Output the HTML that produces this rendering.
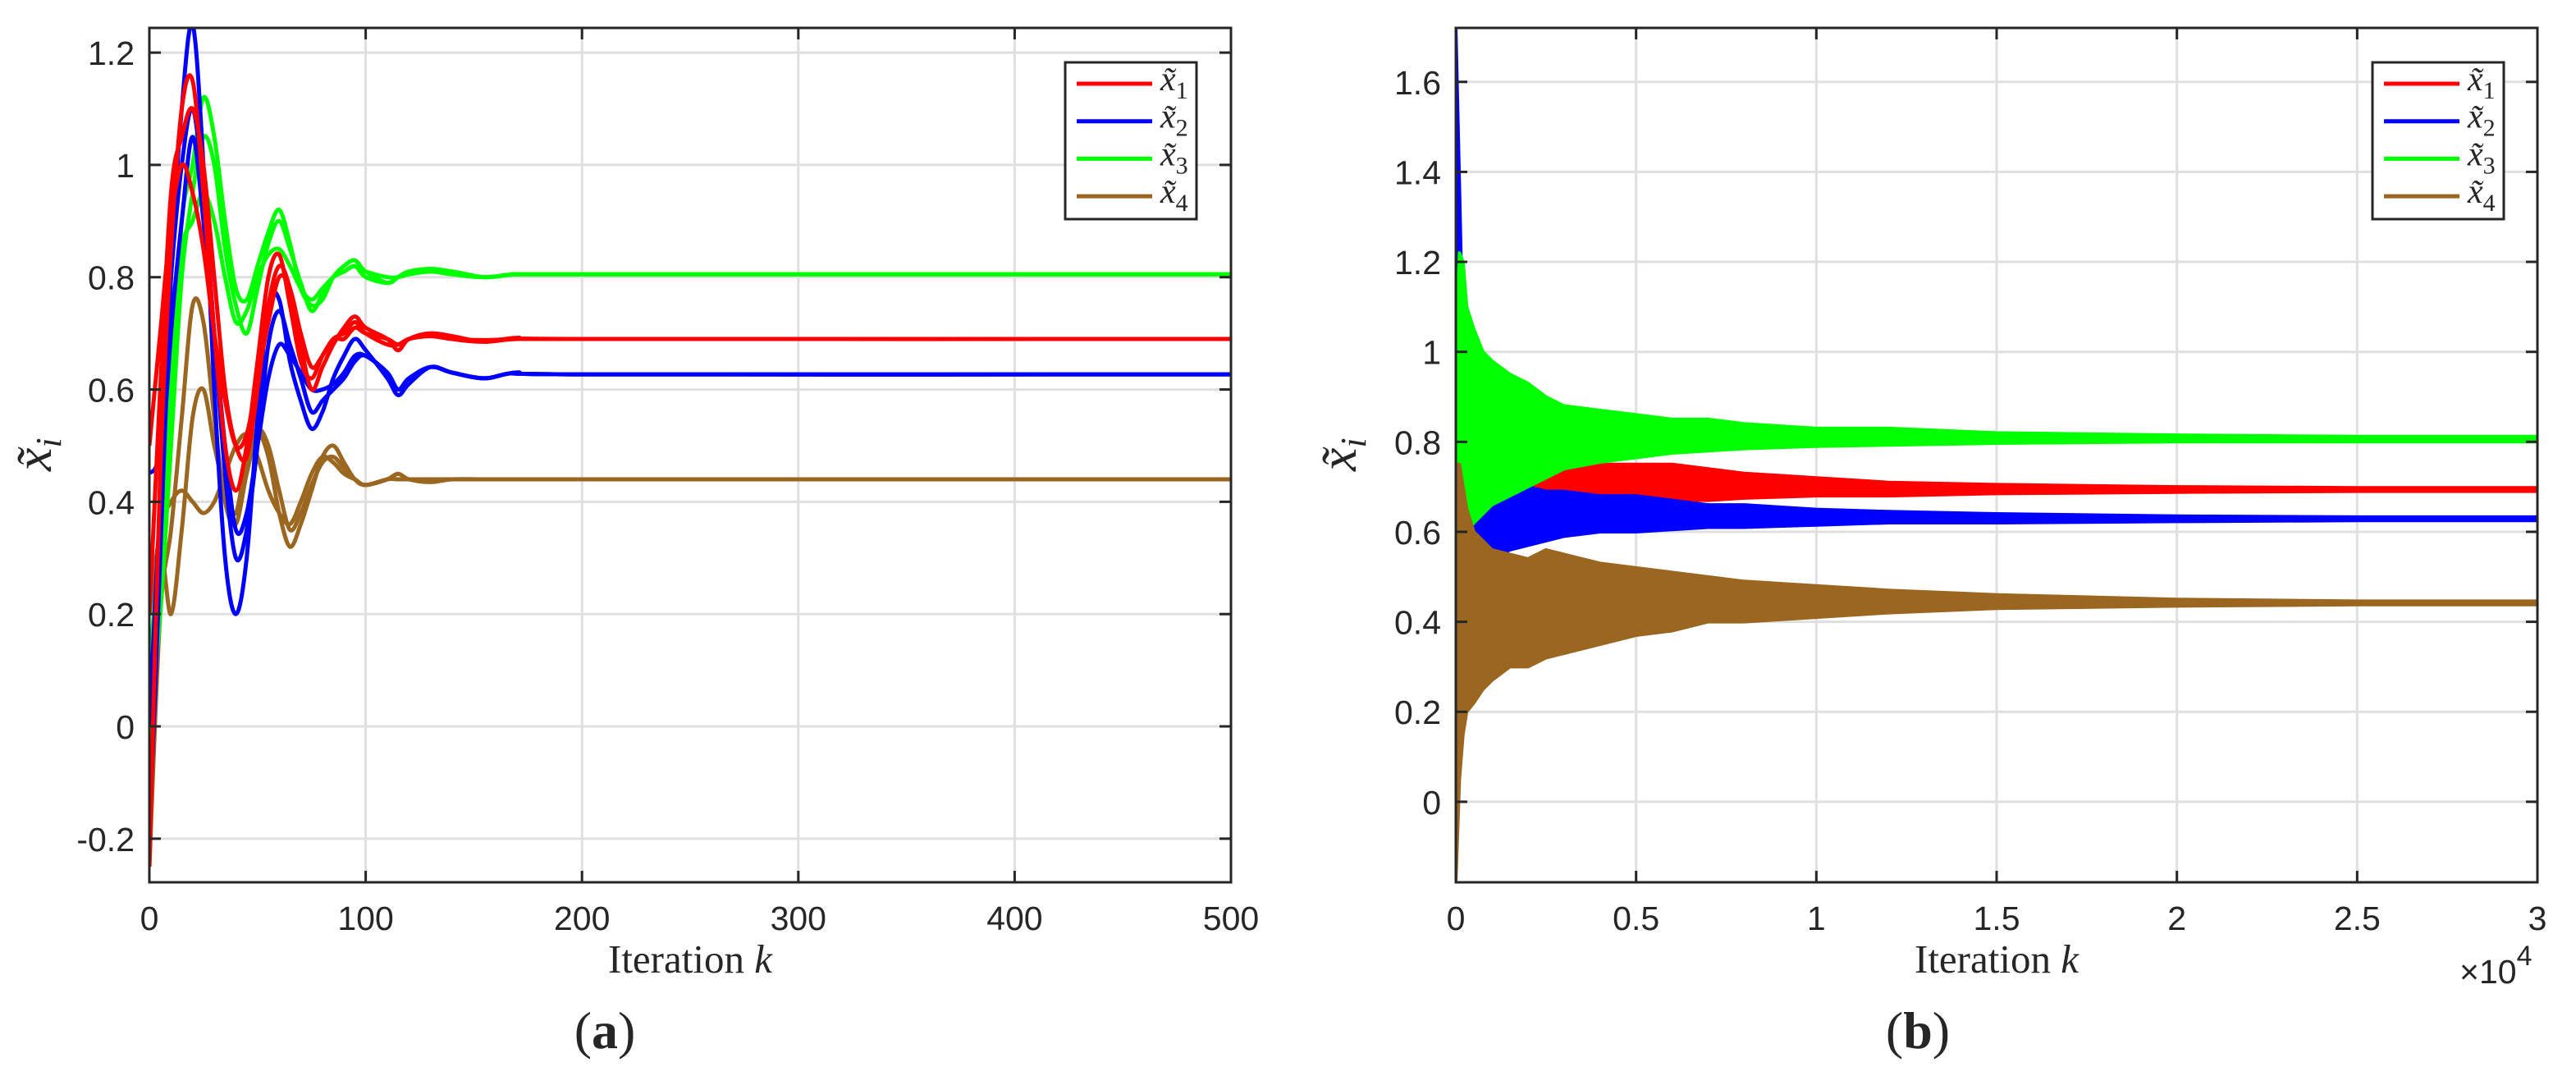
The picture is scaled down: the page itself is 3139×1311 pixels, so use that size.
<!DOCTYPE html>
<html><head><meta charset="utf-8"><style>
html,body{margin:0;padding:0;background:#fff;}
svg{display:block;}
.tk{font-family:"Liberation Sans",sans-serif;font-size:41px;fill:#262626;}
.ser{font-family:"Liberation Serif",serif;fill:#262626;}
</style></head><body>
<svg id="fig" width="3139" height="1311" viewBox="0 0 3139 1311" xmlns="http://www.w3.org/2000/svg"></svg>
<script>
// ---- Chart (a) data ----
const kA = [0,5,10,15,20,25,30,35,40,45,50,55,60,65,70,75,80,85,90,95,100,110,115,120,130,140,155,170,200,500];
const red1 = [-0.25,0.45,0.85,1.1,1.15,0.95,0.7,0.5,0.42,0.5,0.65,0.8,0.84,0.75,0.65,0.62,0.66,0.69,0.7,0.72,0.7,0.68,0.68,0.69,0.7,0.695,0.685,0.692,0.69,0.69];
const red2 = [0.2,0.6,0.95,1.05,1.1,1.0,0.8,0.6,0.5,0.48,0.6,0.75,0.82,0.78,0.68,0.6,0.64,0.68,0.71,0.73,0.71,0.69,0.67,0.69,0.7,0.69,0.685,0.69,0.69,0.69];
const red3 = [0.5,0.7,0.9,1.0,0.95,0.85,0.7,0.58,0.5,0.52,0.62,0.72,0.8,0.78,0.7,0.64,0.66,0.69,0.69,0.71,0.7,0.69,0.68,0.69,0.695,0.69,0.688,0.69,0.69,0.69];
const blue1 = [-0.2,0.3,0.8,1.1,1.25,1.0,0.6,0.3,0.2,0.3,0.55,0.75,0.76,0.65,0.58,0.53,0.56,0.62,0.66,0.69,0.67,0.62,0.59,0.61,0.64,0.63,0.62,0.63,0.627,0.627];
const blue2 = [0.45,0.5,0.8,1.0,1.1,0.95,0.7,0.45,0.3,0.35,0.5,0.68,0.74,0.68,0.62,0.56,0.58,0.6,0.62,0.65,0.66,0.63,0.6,0.62,0.64,0.63,0.62,0.63,0.627,0.627];
const blue3 = [0.0,0.4,0.7,0.9,1.05,0.9,0.7,0.5,0.35,0.38,0.5,0.62,0.68,0.66,0.63,0.6,0.6,0.61,0.63,0.66,0.66,0.63,0.6,0.62,0.64,0.63,0.62,0.63,0.627,0.627];
const green1 = [-0.1,0.3,0.6,0.9,1.0,1.12,1.05,0.9,0.78,0.76,0.82,0.88,0.92,0.86,0.78,0.75,0.76,0.8,0.82,0.83,0.81,0.79,0.8,0.81,0.815,0.81,0.8,0.805,0.805,0.805];
const green2 = [0.0,0.2,0.5,0.8,0.95,1.05,1.0,0.85,0.75,0.7,0.78,0.86,0.9,0.85,0.79,0.74,0.77,0.8,0.81,0.82,0.8,0.79,0.8,0.81,0.81,0.81,0.8,0.805,0.805,0.805];
const green3 = [0.1,0.35,0.65,0.85,0.9,0.95,0.9,0.8,0.72,0.74,0.8,0.84,0.85,0.82,0.78,0.76,0.78,0.8,0.81,0.82,0.81,0.8,0.8,0.805,0.81,0.805,0.8,0.805,0.805,0.805];
const brown1 = [-0.25,0.2,0.35,0.55,0.75,0.72,0.55,0.4,0.36,0.45,0.52,0.48,0.38,0.32,0.36,0.42,0.48,0.5,0.47,0.44,0.43,0.44,0.45,0.44,0.435,0.44,0.44,0.44,0.44,0.44];
const brown2 = [0.0,0.3,0.2,0.35,0.55,0.6,0.5,0.42,0.38,0.48,0.53,0.5,0.42,0.35,0.38,0.43,0.47,0.48,0.46,0.44,0.43,0.44,0.45,0.44,0.44,0.44,0.44,0.44,0.44,0.44];
const brown3 = [0.2,0.35,0.4,0.42,0.4,0.38,0.4,0.45,0.5,0.52,0.48,0.42,0.38,0.36,0.4,0.45,0.48,0.47,0.45,0.44,0.43,0.44,0.44,0.44,0.44,0.44,0.44,0.44,0.44,0.44];
const xTicksA = [0,100,200,300,400,500];
const yTicksA = [-0.2,0,0.2,0.4,0.6,0.8,1,1.2];
// ---- Chart (b) data ----
const kB = [0,100,200,300,500,750,1000,1500,2000,2500,3000,4000,5000,6000,7000,8000,10000,12000,15000,20000,25000,30000];
const greenUp = [1.0,1.22,1.2,1.1,1.05,1.0,0.98,0.95,0.93,0.9,0.88,0.87,0.86,0.85,0.85,0.84,0.83,0.83,0.82,0.815,0.812,0.812];
const greenLo = [0,0.5,0.6,0.6,0.62,0.64,0.66,0.68,0.7,0.72,0.74,0.755,0.765,0.775,0.78,0.785,0.79,0.793,0.797,0.8,0.8,0.8];
const redUp = [1.38,1.1,1.0,0.9,0.85,0.8,0.78,0.77,0.76,0.76,0.755,0.75,0.75,0.75,0.74,0.73,0.72,0.71,0.705,0.7,0.698,0.698];
const redLo = [-0.1,0.5,0.55,0.58,0.6,0.62,0.63,0.64,0.65,0.65,0.66,0.66,0.665,0.67,0.67,0.675,0.68,0.68,0.685,0.688,0.69,0.69];
const blueUp = [1.72,1.37,1.0,0.85,0.75,0.72,0.7,0.7,0.7,0.69,0.69,0.68,0.68,0.67,0.66,0.66,0.65,0.645,0.64,0.635,0.633,0.633];
const blueLo = [0.3,0.3,0.35,0.45,0.5,0.52,0.54,0.56,0.57,0.58,0.59,0.6,0.6,0.605,0.61,0.61,0.615,0.62,0.62,0.623,0.625,0.625];
const brownUp = [0.75,0.75,0.7,0.65,0.6,0.58,0.56,0.55,0.54,0.56,0.55,0.53,0.52,0.51,0.5,0.49,0.48,0.47,0.46,0.45,0.446,0.446];
const brownLo = [-0.18,0.05,0.15,0.2,0.22,0.25,0.27,0.3,0.3,0.32,0.33,0.35,0.37,0.38,0.4,0.4,0.41,0.42,0.43,0.435,0.438,0.438];
const xTicksB = [0,5000,10000,15000,20000,25000,30000];
const xTickLabelsB = ["0","0.5","1","1.5","2","2.5","3"];
const yTicksB = [0,0.2,0.4,0.6,0.8,1,1.2,1.4,1.6];

const NS="http://www.w3.org/2000/svg";
const svg=document.getElementById('fig');
function mk(tag,attrs,parent){const e=document.createElementNS(NS,tag);for(const k in attrs)e.setAttribute(k,attrs[k]);(parent||svg).appendChild(e);return e;}
const COL={red:'#ff0000',blue:'#0000ff',green:'#00ff00',brown:'#9a6620'};

function axes(L,R,T,B,xmin,xmax,ymin,ymax){
  return {x:v=>L+(v-xmin)/(xmax-xmin)*(R-L), y:v=>B-(v-ymin)/(ymax-ymin)*(B-T), L,R,T,B};
}
function smooth(pts){
  let d='M'+pts[0][0]+','+pts[0][1];
  for(let i=0;i<pts.length-1;i++){
    const p0=pts[Math.max(0,i-1)],p1=pts[i],p2=pts[i+1],p3=pts[Math.min(pts.length-1,i+2)];
    const c1=[p1[0]+(p2[0]-p0[0])/6,p1[1]+(p2[1]-p0[1])/6];
    const c2=[p2[0]-(p3[0]-p1[0])/6,p2[1]-(p3[1]-p1[1])/6];
    d+=' C'+c1[0].toFixed(1)+','+c1[1].toFixed(1)+' '+c2[0].toFixed(1)+','+c2[1].toFixed(1)+' '+p2[0].toFixed(1)+','+p2[1].toFixed(1);
  }
  return d;
}
function frame(ax,g,xt,yt){
  const grid=mk('g',{},g);
  
  
  xt.forEach(v=>mk('line',{x1:ax.x(v),x2:ax.x(v),y1:ax.T,y2:ax.B,stroke:'#dfdfdf','stroke-width':3},grid));
  yt.forEach(v=>mk('line',{x1:ax.L,x2:ax.R,y1:ax.y(v),y2:ax.y(v),stroke:'#dfdfdf','stroke-width':3},grid));
}
function border(ax,g,xt,xl,yt,yl){
  mk('rect',{x:ax.L,y:ax.T,width:ax.R-ax.L,height:ax.B-ax.T,fill:'none',stroke:'#262626','stroke-width':3},g);
  xt.forEach((v,i)=>{
    mk('line',{x1:ax.x(v),x2:ax.x(v),y1:ax.B,y2:ax.B-14,stroke:'#262626','stroke-width':3},g);
    mk('line',{x1:ax.x(v),x2:ax.x(v),y1:ax.T,y2:ax.T+14,stroke:'#262626','stroke-width':3},g);
    const t=mk('text',{x:ax.x(v),y:1133,'text-anchor':'middle',class:'tk'},g);
    
    
    t.textContent=xl[i];
  });
  yt.forEach((v,i)=>{
    mk('line',{x1:ax.L,x2:ax.L+14,y1:ax.y(v),y2:ax.y(v),stroke:'#262626','stroke-width':3},g);
    mk('line',{x1:ax.R,x2:ax.R-14,y1:ax.y(v),y2:ax.y(v),stroke:'#262626','stroke-width':3},g);
    const t=mk('text',{x:ax.L-18,y:ax.y(v)+15,'text-anchor':'end',class:'tk'},g);
    
    
    t.textContent=yl[i];
  });
}
function legend(x,g){
  const lg=mk('g',{},g);
  
  
  mk('rect',{x:x,y:76,width:160,height:191,fill:'#fff',stroke:'#262626','stroke-width':3},lg);
  const names=['red','blue','green','brown'];
  names.forEach((n,i)=>{
    const y=102+i*45.7;
    const e=mk('g',{},lg);
    
    
    mk('line',{x1:x+14,x2:x+106,y1:y,y2:y,stroke:COL[n],'stroke-width':5},e);
    const t=mk('text',{x:x+116,y:y+8,class:'ser','font-size':42,'font-style':'italic'},e);
    t.innerHTML='x\u0303<tspan dy="10" font-size="30" font-style="normal">'+(i+1)+'</tspan>';
  });
}
function labels(cx,lx,g){
  const xl=mk('text',{x:cx,y:1185,'text-anchor':'middle',class:'ser','font-size':49},g);
  
  
  xl.innerHTML='Iteration <tspan font-style="italic">k</tspan>';
  const yl=mk('g',{transform:'translate('+lx+',552) rotate(-90)'},g);
  
  
  const t=mk('text',{x:-22,y:0,class:'ser','font-size':64,'font-style':'italic'},yl);
  t.innerHTML='x\u0303<tspan dy="12" font-size="44">i</tspan>';
}

// ---- Chart (a) ----
const gA=mk('g',{});


const axA=axes(182,1500,34,1075,0,500,-0.2777,1.244);
frame(axA,gA,xTicksA,yTicksA);
const plotA=mk('g',{},gA);
const clipA=mk('clipPath',{id:'cA'},gA);mk('rect',{x:182,y:34,width:1318,height:1041},clipA);
plotA.setAttribute('clip-path','url(#cA)');
[['brown',[brown1,brown2,brown3]],['green',[green1,green2,green3]],['blue',[blue1,blue2,blue3]],['red',[red1,red2,red3]]].forEach(([n,arrs])=>{
  arrs.forEach((arr,j)=>{
    const p=mk('path',{d:smooth(kA.map((k,i)=>[axA.x(k),axA.y(arr[i])])),fill:'none',stroke:COL[n],'stroke-width':5,'stroke-linejoin':'round'},plotA);
    
    
  });
});
border(axA,gA,xTicksA,xTicksA.map(String),yTicksA,yTicksA.map(String));
legend(1298,gA);
labels(841,62,gA);
const capA=mk('text',{x:737,y:1277,'text-anchor':'middle',class:'ser','font-size':64,fill:'#000'},gA);


capA.innerHTML='(<tspan font-weight="bold">a</tspan>)';

// ---- Chart (b) ----
const gB=mk('g',{});


const axB=axes(1774,3092,34,1075,0,30000,-0.179,1.72);
frame(axB,gB,xTicksB,yTicksB);
const plotB=mk('g',{},gB);
const clipB=mk('clipPath',{id:'cB'},gB);mk('rect',{x:1774,y:34,width:1318,height:1041},clipB);
plotB.setAttribute('clip-path','url(#cB)');
[['red',redUp,redLo],['blue',blueUp,blueLo],['green',greenUp,greenLo],['brown',brownUp,brownLo]].forEach(([n,up,lo])=>{
  const top=kB.map((k,i)=>[axB.x(k),axB.y(up[i])]);
  const bot=kB.map((k,i)=>[axB.x(k),axB.y(lo[i])]).reverse();
  const d='M'+top.concat(bot).map(p=>p[0].toFixed(1)+','+p[1].toFixed(1)).join(' L')+' Z';
  const p=mk('path',{d:d,fill:COL[n],stroke:COL[n],'stroke-width':4,'stroke-linejoin':'round'},plotB);
  
  
});
border(axB,gB,xTicksB,xTickLabelsB,yTicksB,yTicksB.map(String));
legend(2891,gB);
labels(2433,1652,gB);
const ex=mk('text',{x:2997,y:1198,class:'tk'},gB);


ex.innerHTML='×10<tspan dy="-22" font-size="34">4</tspan>';
const capB=mk('text',{x:2337,y:1277,'text-anchor':'middle',class:'ser','font-size':64,fill:'#000'},gB);


capB.innerHTML='(<tspan font-weight="bold">b</tspan>)';
</script>
</body></html>
